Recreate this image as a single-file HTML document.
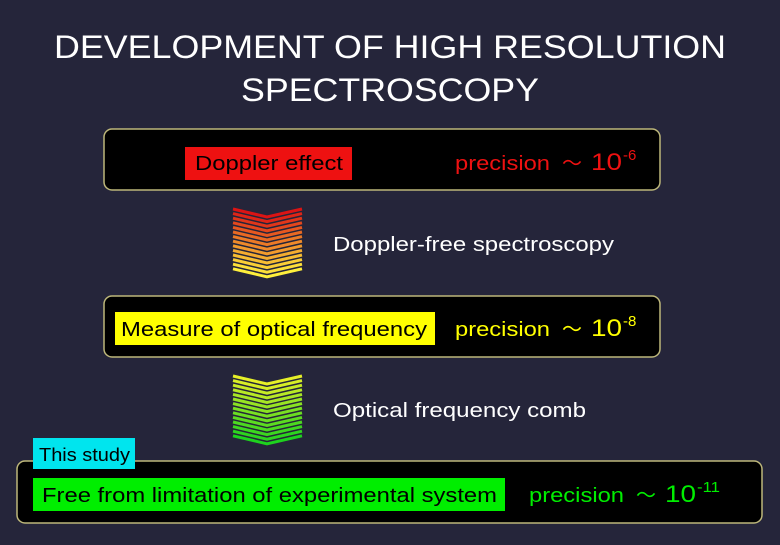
<!DOCTYPE html>
<html><head><meta charset="utf-8"><style>
body{margin:0;width:780px;height:540px;background:#25253a;overflow:hidden;font-family:"Liberation Sans",sans-serif;}
</style></head><body>
<svg width="780" height="540" xmlns="http://www.w3.org/2000/svg">
<rect width="780" height="540" fill="#25253a"/>
<text x="54" y="58" font-size="32" textLength="672" lengthAdjust="spacingAndGlyphs" fill="#fff">DEVELOPMENT OF HIGH RESOLUTION</text>
<text x="241" y="101" font-size="32" textLength="298" lengthAdjust="spacingAndGlyphs" fill="#fff">SPECTROSCOPY</text>

<rect x="104" y="129" width="556" height="61" rx="8" fill="#000" stroke="#bdb77a" stroke-width="1.5"/>
<rect x="185" y="147" width="167" height="33" fill="#ee1111"/>
<text x="195" y="170" font-size="20" textLength="148" lengthAdjust="spacingAndGlyphs" fill="#000">Doppler effect</text>
<g fill="#ee1111">
<text x="455" y="170" font-size="20" textLength="95" lengthAdjust="spacingAndGlyphs">precision</text>
<text x="562" y="170" font-size="20">～</text>
<text x="591" y="170" font-size="24" textLength="31" lengthAdjust="spacingAndGlyphs">10</text>
<text x="623" y="160" font-size="15">-6</text>
</g>

<g id="chev1"></g>
<text x="333" y="251" font-size="20" textLength="281" lengthAdjust="spacingAndGlyphs" fill="#fff">Doppler-free spectroscopy</text>

<rect x="104" y="296" width="556" height="61" rx="8" fill="#000" stroke="#bdb77a" stroke-width="1.5"/>
<rect x="115" y="312" width="320" height="33" fill="#ffff00"/>
<text x="121" y="336" font-size="20" textLength="306" lengthAdjust="spacingAndGlyphs" fill="#000">Measure of optical frequency</text>
<g fill="#ffff00">
<text x="455" y="336" font-size="20" textLength="95" lengthAdjust="spacingAndGlyphs">precision</text>
<text x="562" y="336" font-size="20">～</text>
<text x="591" y="336" font-size="24" textLength="31" lengthAdjust="spacingAndGlyphs">10</text>
<text x="623" y="326" font-size="15">-8</text>
</g>

<g id="chev2"></g>
<text x="333" y="417" font-size="20" textLength="253" lengthAdjust="spacingAndGlyphs" fill="#fff">Optical frequency comb</text>

<rect x="17" y="461" width="745" height="62" rx="8" fill="#000" stroke="#bdb77a" stroke-width="1.5"/>
<rect x="33" y="438" width="102" height="31" fill="#00e5ee"/>
<text x="39" y="461" font-size="18" textLength="91" lengthAdjust="spacingAndGlyphs" fill="#000">This study</text>
<rect x="33" y="478" width="472" height="33" fill="#00ee00"/>
<text x="42" y="502" font-size="20" textLength="455" lengthAdjust="spacingAndGlyphs" fill="#000">Free from limitation of experimental system</text>
<g fill="#00ee00">
<text x="529" y="502" font-size="20" textLength="95" lengthAdjust="spacingAndGlyphs">precision</text>
<text x="636" y="502" font-size="20">～</text>
<text x="665" y="502" font-size="24" textLength="31" lengthAdjust="spacingAndGlyphs">10</text>
<text x="697" y="492" font-size="15" textLength="23" lengthAdjust="spacingAndGlyphs">-11</text>
</g>
</svg>
<script>
function chev(id,y0,c0,c1){
  var g=document.getElementById(id);
  var n=14;
  for(var i=0;i<n;i++){
    var t=i/(n-1);
    var r=Math.round(c0[0]+(c1[0]-c0[0])*t),gg=Math.round(c0[1]+(c1[1]-c0[1])*t),b=Math.round(c0[2]+(c1[2]-c0[2])*t);
    var y=y0+i*4.6;
    var p=document.createElementNS('http://www.w3.org/2000/svg','polyline');
    
    
    p.setAttribute('points','233,'+y+' 267,'+(y+8)+' 302,'+y);
    p.setAttribute('fill','none');
    p.setAttribute('stroke','rgb('+r+','+gg+','+b+')');
    p.setAttribute('stroke-width','3');
    g.appendChild(p);
  }
}
chev('chev1',209,[220,20,20],[255,240,60]);
chev('chev2',376,[230,240,40],[30,210,30]);
</script>
</body></html>
